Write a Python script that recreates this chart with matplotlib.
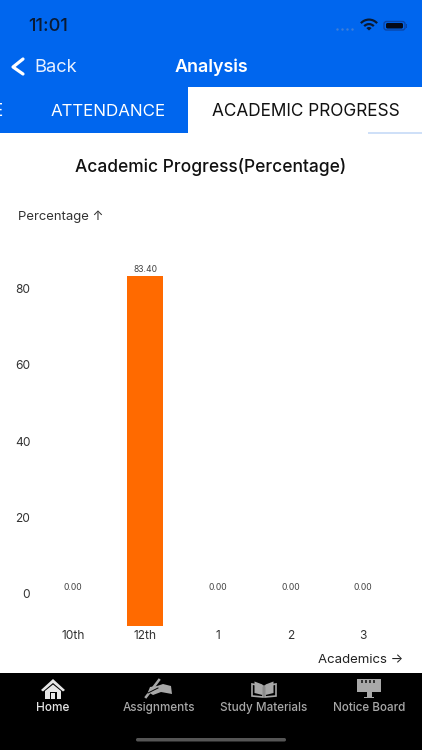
import numpy as np
import matplotlib
matplotlib.use('Agg')
import matplotlib.pyplot as plt
from matplotlib.patches import Rectangle, Polygon, FancyBboxPatch, Wedge

plt.rcParams['font.family'] = ['Inter', 'DejaVu Sans']

# chart data
categories = ['10th', '12th', '1', '2', '3']
values = [0.0, 83.4, 0.0, 0.0, 0.0]
y_ticks = [0, 20, 40, 60, 80]

W, H = 422, 750
BLUE = '#0066EE'
ORANGE = '#FF6A00'
GREY = '#A8A8A8'
LIGHT = '#E6E6E6'

fig = plt.figure(figsize=(W / 100, H / 100), dpi=100, facecolor='white')

# screen layer in pixel coords, top-left origin
ui = fig.add_axes([0, 0, 1, 1])
ui.set_xlim(0, W)
ui.set_ylim(H, 0)
ui.axis('off')


def label(x, y, s, size, color='black', ha='center', weight='normal'):
    ui.text(x, y, s, fontsize=size, color=color, ha=ha, va='center', fontweight=weight)


def box(x, y, w, h, color):
    ui.add_patch(Rectangle((x, y), w, h, facecolor=color, edgecolor='none'))


# header
box(0, 0, W, 133, BLUE)
box(188, 87, 234, 46, 'white')
box(368, 132, 54, 1.5, '#CFE0F8')
label(48, 26.5, '11:01', 13.2, '#0A1A33', weight='medium')
label(56, 67.5, 'Back', 13.2, '#E8F0FF')
label(211.5, 67.5, 'Analysis', 12.9, 'white', weight='semibold')
ui.plot([23, 13, 23], [59, 67, 74], color='white', lw=2.3, solid_capstyle='round')
label(-2, 111, 'E', 12.3, 'white')
label(108, 111, 'ATTENDANCE', 12.2, 'white')
label(305.5, 111, 'ACADEMIC PROGRESS', 12.4, '#111111')

# status icons
ui.scatter([337, 342, 347, 352], [28.5] * 4, s=3, color='#3F7FD8', linewidths=0)
for r, w in ((12, 2.2), (7.5, 2.2)):
    ui.add_patch(Wedge((369, 30.5), r, 222, 318, width=w, facecolor='#0A1A33', edgecolor='none'))
ui.add_patch(Wedge((369, 30.5), 3.5, 222, 318, facecolor='#0A1A33', edgecolor='none'))
ui.add_patch(FancyBboxPatch((384, 21.5), 21, 8.5, boxstyle='round,pad=0,rounding_size=2.5',
                            facecolor='none', edgecolor='#0A45A8', lw=1))
ui.add_patch(FancyBboxPatch((386, 23), 17, 5.5, boxstyle='round,pad=0,rounding_size=1.5',
                            facecolor='#050A18', edgecolor='none'))
box(406, 24, 1.2, 3.5, '#0A45A8')

# chart
ax_left, ax_right = 36.5, 399.5
ax_top, ax_bottom = 250, 626
zero_px = 593.5
px_per_unit = (593.5 - 288.5) / 80
y_min = -(ax_bottom - zero_px) / px_per_unit
y_max = (zero_px - ax_top) / px_per_unit

ax = fig.add_axes([ax_left / W, 1 - ax_bottom / H, (ax_right - ax_left) / W, (ax_bottom - ax_top) / H])
ax.patch.set_alpha(0)
x = np.arange(len(categories))
for xi, v in zip(x, values):
    if v > 0:
        ax.bar(xi, v - y_min, bottom=y_min, width=0.497, color=ORANGE)
    ax.annotate(f'{v:.2f}', (xi, v), xytext=(0, 0.9), textcoords='offset points',
                ha='center', va='bottom', fontsize=6.2, color='#444444')
ax.set_xlim(-0.5, 4.5)
ax.set_ylim(y_min, y_max)
ax.set_xticks(x, categories)
ax.set_yticks(y_ticks)
ax.tick_params(axis='both', length=0, labelsize=8.6, labelcolor='#333333')
ax.tick_params(axis='x', pad=3.2)
ax.tick_params(axis='y', pad=4.5)
for s in ax.spines.values():
    s.set_visible(False)

label(211, 167, 'Academic Progress(Percentage)', 12.5, '#111111', weight='medium')
label(18, 216.5, 'Percentage ↑', 9.4, '#333333', ha='left')
label(403, 660, 'Academics →', 9.5, '#222222', ha='right')

# bottom bar
box(0, 673, W, 77, 'black')
label(53, 708, 'Home', 8.5, LIGHT, weight='medium')
label(158.5, 708, 'Assignments', 8.4, GREY, weight='medium')
label(263.5, 708, 'Study Materials', 8.4, GREY, weight='medium')
label(369, 708, 'Notice Board', 8.4, GREY, weight='medium')
ui.add_patch(FancyBboxPatch((136, 738), 150, 3.5, boxstyle='round,pad=0,rounding_size=1.7',
                            facecolor='#555555', edgecolor='none'))

# home icon
ui.add_patch(Polygon([[41, 690], [53, 679], [65, 690], [63, 691.5], [53, 683], [43, 691.5]],
                     facecolor=LIGHT, edgecolor='none'))
ui.add_patch(Polygon([[45, 691], [53, 684.5], [61, 691], [61, 699], [45, 699]],
                     facecolor=LIGHT, edgecolor='none'))
box(49.5, 691.5, 7, 7.5, 'black')
box(51, 693, 4, 6, LIGHT)
# hand with pen
ui.add_patch(Polygon([[150, 687], [157, 686], [163, 684], [171, 686], [172, 694], [161, 692], [153, 695], [148, 692]],
                     facecolor=GREY, edgecolor='none'))
ui.plot([146, 159], [697, 680], color=GREY, lw=1.8)
ui.plot([148, 158], [693, 688], color='black', lw=0.7)
# open book
ui.add_patch(Polygon([[252, 684], [263, 686], [263, 697], [252, 696]], facecolor='none', edgecolor=GREY, lw=1.2))
ui.add_patch(Polygon([[265, 686], [276, 684], [276, 696], [265, 697]], facecolor='none', edgecolor=GREY, lw=1.2))
ui.add_patch(Polygon([[254.5, 681.5], [262.5, 684.5], [262.5, 695], [254.5, 693]], facecolor=GREY, edgecolor='none'))
ui.add_patch(Polygon([[265.5, 684.5], [273.5, 681.5], [273.5, 693], [265.5, 695]], facecolor=GREY, edgecolor='none'))
# notice board
box(357, 679, 24, 13, GREY)
box(366.5, 692, 5, 4.5, GREY)
box(364, 696.5, 10, 1.8, GREY)
for bx in (361, 365, 369, 373):
    box(bx, 679.5, 2.2, 3, '#333333')

fig.savefig('out.png', dpi=100)
